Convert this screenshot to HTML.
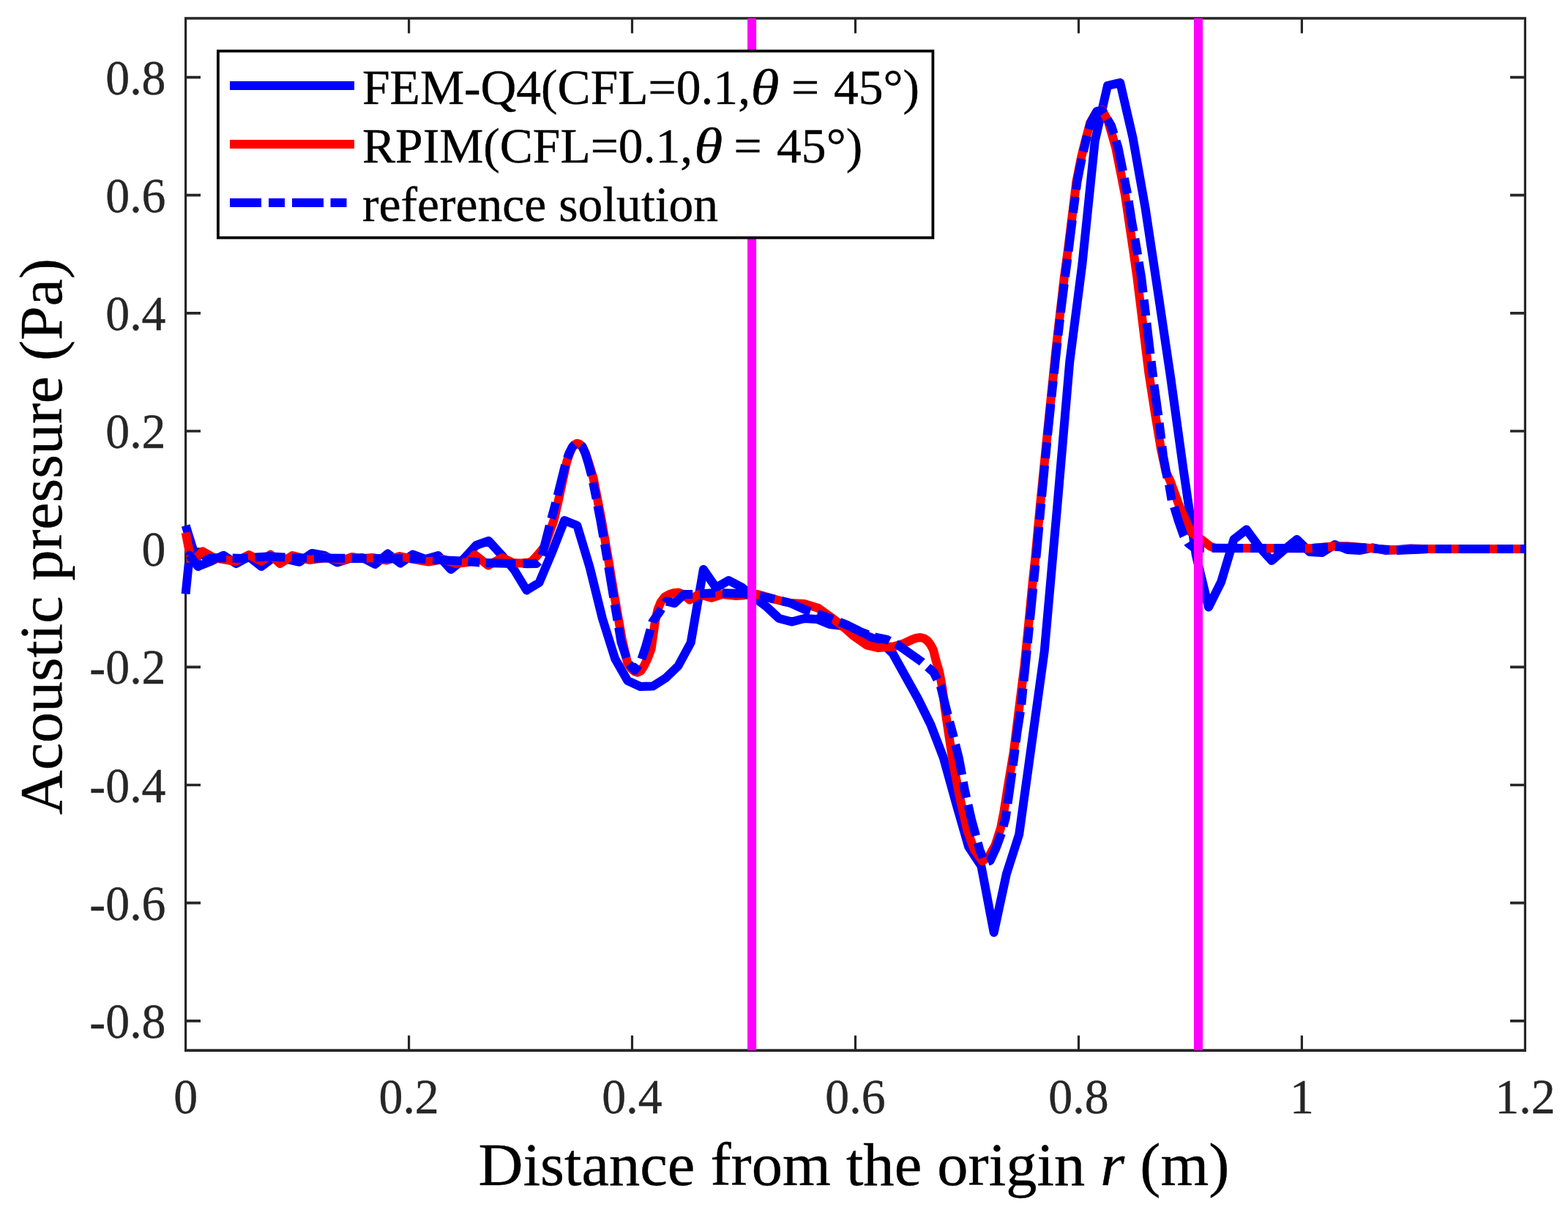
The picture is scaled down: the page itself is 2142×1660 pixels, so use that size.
<!DOCTYPE html>
<html lang="en">
<head>
<meta charset="utf-8">
<title>Acoustic pressure vs distance from the origin</title>
<style>
html,body{margin:0;padding:0;background:#fff;}
body{width:2142px;height:1660px;overflow:hidden;}
svg{display:block;}
text{font-family:"Liberation Serif","DejaVu Serif",serif;white-space:pre;}
.tick{font-size:67.5px;fill:#262626;stroke:#262626;stroke-width:0.4;}
.lab{font-size:83.3px;fill:#000;stroke:#000;stroke-width:0.4;}
.leg{font-size:66.7px;fill:#000;stroke:#000;stroke-width:0.4;}
.it{font-style:italic;}
.ax{stroke:#262626;fill:none;stroke-linecap:butt;}
.c{fill:none;stroke-width:12;stroke-linejoin:round;stroke-linecap:butt;}
</style>
</head>
<body>
<svg width="2142" height="1660" viewBox="0 0 2142 1660">
<rect x="0" y="0" width="2142" height="1660" fill="#fff"/>
<g class="ax">
<path stroke-width="3.7" d="M252.0 25.0H2085.0M252.0 1435.1H2085.0"/>
<path stroke-width="3.2" d="M253.6 25.0V1435.1M2083.4 25.0V1435.1"/>
<path stroke-width="3.2" d="M558.6 1435.1V1414.7M558.6 25.0V45.4M863.5 1435.1V1414.7M863.5 25.0V45.4M1168.5 1435.1V1414.7M1168.5 25.0V45.4M1473.5 1435.1V1414.7M1473.5 25.0V45.4M1778.4 1435.1V1414.7M1778.4 25.0V45.4"/>
<path stroke-width="3.7" d="M253.6 1394.8H274.0M2083.4 1394.8H2063.0M253.6 1233.7H274.0M2083.4 1233.7H2063.0M253.6 1072.5H274.0M2083.4 1072.5H2063.0M253.6 911.3H274.0M2083.4 911.3H2063.0M253.6 750.2H274.0M2083.4 750.2H2063.0M253.6 589.0H274.0M2083.4 589.0H2063.0M253.6 427.9H274.0M2083.4 427.9H2063.0M253.6 266.7H274.0M2083.4 266.7H2063.0M253.6 105.6H274.0M2083.4 105.6H2063.0"/>
</g>
<g class="tick" text-anchor="middle">
<text transform="translate(253.6 1521.0) scale(0.9750 1)">0</text>
<text transform="translate(558.6 1521.0) scale(0.9750 1)">0.2</text>
<text transform="translate(863.5 1521.0) scale(0.9750 1)">0.4</text>
<text transform="translate(1168.5 1521.0) scale(0.9750 1)">0.6</text>
<text transform="translate(1473.5 1521.0) scale(0.9750 1)">0.8</text>
<text transform="translate(1778.4 1521.0) scale(0.9750 1)">1</text>
<text transform="translate(2083.4 1521.0) scale(0.9750 1)">1.2</text>
</g>
<g class="tick" text-anchor="end">
<text transform="translate(226.5 1417.8) scale(0.9750 1)">-0.8</text>
<text transform="translate(226.5 1256.7) scale(0.9750 1)">-0.6</text>
<text transform="translate(226.5 1095.5) scale(0.9750 1)">-0.4</text>
<text transform="translate(226.5 934.3) scale(0.9750 1)">-0.2</text>
<text transform="translate(226.5 773.2) scale(0.9750 1)">0</text>
<text transform="translate(226.5 612.0) scale(0.9750 1)">0.2</text>
<text transform="translate(226.5 450.9) scale(0.9750 1)">0.4</text>
<text transform="translate(226.5 289.7) scale(0.9750 1)">0.6</text>
<text transform="translate(226.5 128.6) scale(0.9750 1)">0.8</text>
</g>
<text class="lab" text-anchor="middle" transform="translate(1166.5 1619.0) scale(1.0150 1)">Distance from the origin <tspan class="it">r</tspan> (m)</text>
<text class="lab" text-anchor="middle" transform="translate(84.0 733.0) rotate(-90) scale(1.0077 1)">Acoustic pressure (Pa)</text>
<g class="c">
<polyline stroke="#0000ff" points="253.6,718.0 270.9,773.8 288.1,766.9 305.4,758.7 322.6,770.1 339.9,760.5 357.1,773.9 374.4,761.0 391.6,764.0 408.9,767.8 426.1,755.9 443.4,759.0 460.6,768.5 477.9,763.0 495.1,762.0 512.4,771.0 529.6,756.5 546.9,769.5 564.1,757.5 581.4,764.0 598.6,759.0 615.9,778.0 633.1,764.0 650.4,745.0 667.6,739.0 684.9,758.0 702.1,778.0 719.4,806.5 736.6,796.0 753.9,755.0 771.1,711.0 788.4,718.0 805.6,775.0 822.9,845.0 840.2,900.0 857.4,930.0 874.7,938.0 891.9,937.5 909.2,926.5 926.4,910.0 943.7,878.0 960.9,778.0 978.2,803.0 995.4,793.0 1012.7,802.0 1029.9,816.0 1047.2,829.0 1064.4,845.0 1081.7,849.5 1098.9,845.0 1116.2,846.0 1133.4,853.0 1150.7,855.0 1167.9,864.0 1185.2,869.0 1202.4,876.0 1219.7,893.0 1236.9,924.0 1254.2,955.0 1271.4,990.0 1288.7,1035.0 1305.9,1097.0 1323.2,1157.0 1340.4,1183.0 1357.7,1274.0 1374.9,1194.0 1392.2,1140.0 1409.5,1015.0 1426.7,890.0 1444.0,695.0 1461.2,495.0 1478.5,360.0 1495.7,193.0 1513.0,117.0 1530.2,113.0 1547.5,188.0 1564.7,285.0 1582.0,400.0 1599.2,516.0 1616.5,641.0 1633.7,758.0 1651.0,829.5 1668.2,795.0 1685.5,737.0 1702.7,723.5 1720.0,747.0 1737.2,766.0 1754.5,751.0 1771.7,737.0 1789.0,754.0 1806.2,755.0 1823.5,744.0 1840.7,751.0 1858.0,752.0 1875.2,748.3 1892.5,752.0 1909.7,751.0 1927.0,749.5 1944.2,750.0 1961.5,750.0 1978.8,750.0 1996.0,750.0 2013.3,750.0 2030.5,750.0 2047.8,750.0 2065.0,750.0 2082.3,750.0"/>
<polyline stroke="#ff0000" points="253.6,727.5 261.5,768.0 277.0,753.5 292.0,762.0 322.0,767.0 340.0,758.0 356.4,766.8 369.5,757.8 382.6,770.0 399.4,759.0 422.7,765.0 445.0,762.0 468.0,765.6 481.0,761.0 495.0,763.0 509.0,762.0 528.0,765.6 546.0,760.0 565.0,764.0 585.5,767.5 605.0,764.0 623.0,770.0 640.0,768.0 648.5,758.0 667.0,772.5 686.0,762.0 700.8,769.0 712.0,769.4 722.0,768.5 727.0,766.5 734.6,758.0 743.9,746.8 756.7,710.8 763.5,681.0 774.2,631.0 778.0,620.0 781.5,611.5 785.0,607.5 788.2,605.7 792.0,607.0 796.0,611.5 800.0,620.0 805.0,635.0 810.5,653.0 821.5,709.0 831.2,765.0 840.5,821.0 849.5,872.0 857.0,905.0 862.0,913.0 867.0,917.5 871.0,918.7 875.5,916.5 880.0,909.5 885.0,899.0 889.6,886.7 895.0,849.0 898.5,833.0 902.7,822.5 908.0,815.5 914.0,812.3 920.0,810.3 927.0,809.5 934.0,812.5 942.0,819.5 955.0,812.0 971.8,816.7 986.7,812.0 1005.4,814.0 1035.0,812.0 1061.0,819.5 1080.0,824.0 1098.8,825.0 1117.5,830.7 1136.0,843.8 1154.8,858.7 1165.4,868.3 1184.0,881.4 1199.0,885.0 1221.4,883.2 1235.0,879.0 1246.7,873.5 1252.0,871.6 1257.3,871.0 1262.5,872.3 1267.0,875.5 1271.0,880.5 1275.0,888.0 1278.5,902.0 1283.2,918.0 1287.2,939.0 1290.5,965.4 1296.0,1002.8 1302.7,1046.7 1312.0,1093.4 1321.4,1134.5 1330.7,1160.6 1342.0,1176.5 1351.0,1170.0 1359.5,1155.0 1367.2,1130.7 1371.3,1110.0 1376.3,1078.0 1384.8,1027.1 1394.4,950.0 1399.5,909.4 1405.1,853.4 1410.5,797.3 1414.5,760.0 1421.0,690.0 1431.5,585.0 1443.0,473.0 1453.7,380.0 1459.0,341.0 1470.5,248.0 1477.2,214.5 1482.8,192.0 1489.3,167.8 1497.5,153.5 1505.5,150.0 1514.0,166.0 1524.0,201.0 1531.5,238.7 1537.0,266.7 1548.0,341.0 1553.5,380.0 1569.5,510.7 1578.2,566.7 1586.0,613.4 1592.8,645.0 1598.3,656.4 1612.3,694.7 1620.7,713.4 1627.2,727.4 1643.0,738.5 1653.4,746.5 1660.0,748.8 1790.0,749.3 1812.0,747.3 1824.0,746.3 1840.0,746.2 1855.0,747.5 1871.8,749.0 1890.0,750.8 1903.0,751.6 1925.0,750.8 1950.0,750.0 2084.0,750.0"/>
<path stroke="#0000ff" d="M253.6 811.5L257.9 769.0M258.9 759.2L259.0 758.5L270.5 774.0L272.0 772.7M278.5 767.0L279.0 766.5L286.0 763.0L300.0 762.0L309.1 762.3M317.6 762.6L330.0 763.0L338.8 762.2M348.3 761.4L368.0 760.2L389.3 761.5M398.6 762.5L400.0 762.6L419.3 762.5M428.9 762.5L430.0 762.5L471.3 762.8M480.7 762.9L500.0 763.0L500.7 763.0M509.9 763.0L550.0 763.2M559.6 763.3L570.0 763.3L581.6 764.0M591.1 764.5L600.0 765.0L630.0 766.5L631.0 766.6M639.2 767.2L646.0 767.8L655.4 768.6M663.8 769.1L680.0 769.4L700.0 770.0L704.5 770.0M714.3 770.1L720.0 770.2L733.0 770.0L735.7 767.3M740.2 758.7L741.5 755.0L750.8 718.2M753.4 708.6L759.2 686.7M761.7 677.0L763.0 672.0L772.1 635.5M774.9 626.1L778.0 618.0L782.0 610.5L785.2 607.3M793.9 608.6L795.5 610.0L799.5 619.0L804.0 634.0L808.1 649.4M810.2 659.3L814.6 681.4M816.5 691.3L820.0 709.0L824.3 733.6M826.0 743.4L829.7 765.0M831.3 774.7L838.2 816.2M839.8 825.9L843.5 847.4M845.2 857.2L848.6 877.4L855.7 898.7M859.5 907.2L867.2 915.7L872.3 908.7M876.5 900.4L882.2 883.0L888.6 860.0M891.2 850.4L891.5 849.4L900.8 836.3L903.6 831.8M909.0 823.3L910.2 821.4L921.4 824.2L934.5 812.0L946.2 812.0M956.0 811.4L977.0 810.0L977.2 810.0M986.9 810.3L1014.7 811.0L1028.6 813.0M1038.0 814.4L1041.0 814.8L1058.1 818.7M1067.4 821.0L1080.0 824.0L1098.8 832.6L1107.0 835.4M1116.5 838.6L1117.5 839.0L1136.0 845.7L1137.5 846.3M1146.8 849.9L1156.0 853.4L1174.7 862.7L1185.7 867.1M1194.7 870.5L1212.0 874.0L1215.2 875.6M1224.0 879.9L1227.0 881.4L1258.7 903.8L1259.7 904.7M1267.2 911.3L1275.5 918.7L1280.3 928.2M1284.6 936.8L1284.9 937.4L1294.2 974.7L1294.7 976.7M1297.2 986.1L1301.7 1002.8L1302.9 1007.5M1305.2 1017.2L1310.2 1037.3L1314.1 1058.7M1315.8 1068.4L1317.6 1078.4L1320.2 1089.9M1322.5 1099.6L1327.0 1119.5L1333.1 1141.9M1335.7 1151.4L1338.2 1160.6L1342.7 1171.9M1349.5 1177.2L1352.6 1176.0L1360.6 1158.7L1368.0 1138.6M1370.6 1129.0L1373.7 1117.6L1375.1 1107.8M1376.5 1098.0L1379.3 1078.4L1382.4 1055.7M1383.7 1045.8L1384.9 1037.3L1386.6 1023.8M1387.8 1014.0L1389.5 1000.0L1393.9 972.4M1395.3 962.6L1397.5 940.6M1398.5 930.7L1400.7 909.4L1402.8 888.5M1403.8 878.6L1406.0 856.6M1407.0 846.7L1411.2 804.2M1412.2 794.3L1414.4 772.1M1415.4 762.2L1415.6 760.0L1419.3 719.7M1420.2 709.9L1422.0 690.0L1422.2 688.2M1423.1 678.4L1426.6 641.4L1427.1 635.9M1428.1 626.1L1430.2 604.3M1431.1 594.5L1432.0 585.4L1435.5 552.0M1436.5 542.1L1437.8 529.4L1438.8 520.3M1439.8 510.5L1443.8 473.4L1444.4 468.1M1445.5 458.2L1447.9 436.4M1449.0 426.9L1449.0 426.7L1453.8 388.1M1455.0 378.1L1458.2 353.7M1459.6 343.3L1459.8 341.4L1464.8 300.7M1466.0 290.8L1468.8 268.9M1470.1 259.0L1471.5 248.0L1477.7 216.8M1480.0 207.1L1483.5 192.0L1485.2 185.6M1487.5 176.5L1489.8 167.8L1498.5 152.0L1505.5 151.0L1507.8 154.8M1512.8 162.9L1518.0 171.5L1521.6 183.1M1524.6 192.5L1527.4 201.4L1533.9 233.8M1535.8 243.4L1540.1 264.8M1541.7 274.5L1546.3 304.0L1548.5 316.4M1550.3 326.1L1553.0 341.4L1554.1 348.1M1555.7 357.9L1559.3 380.0L1561.6 399.7M1562.7 409.5L1565.3 431.4M1566.4 441.2L1571.3 482.7L1571.4 483.7M1572.6 493.5L1575.3 515.5M1576.5 525.4L1577.0 529.4L1582.3 567.8M1583.6 577.7L1586.3 599.8M1587.4 609.8L1589.0 622.8L1594.5 652.6M1597.1 662.1L1600.6 683.3M1604.0 692.4L1610.0 712.0L1617.0 732.0L1617.3 732.6M1622.7 741.5L1623.0 742.0L1630.0 747.5L1640.0 748.8L1645.0 748.8M1655.5 748.8L1698.2 748.9M1708.1 748.9L1730.1 748.9M1740.1 748.9L1780.0 749.0L1782.8 749.0M1792.6 749.0L1814.0 747.6M1823.8 746.9L1847.0 747.4L1866.5 748.6L1866.9 748.6M1876.7 749.5L1898.1 751.1M1907.8 752.0L1930.0 751.0L1950.8 750.0M1960.7 750.0L1982.7 750.0M1992.5 750.0L2035.0 750.0M2044.9 750.0L2067.0 750.0M2077.0 750.0L2084.0 750.0L2084.0 750.0"/>
<path stroke="#ff00ff" d="M1027.1 25.0V1435.1M1637.0 25.0V1435.1"/>
</g>
<rect x="297.9" y="69.7" width="976.5" height="255.1" fill="#fff" stroke="#000" stroke-width="3.8"/>
<g class="c">
<path stroke="#0000ff" d="M314 117H484"/>
<path stroke="#ff0000" d="M314 197H484"/>
<path stroke="#0000ff" d="M314 277H357M367 277H389M399 277H442M451.5 277H473.5"/>
</g>
<g class="leg">
<text transform="translate(495.0 141.7) scale(1.0135 1)">FEM-Q4(CFL=0.1,<tspan class="it" x="523.4" textLength="38.5" lengthAdjust="spacingAndGlyphs">θ</tspan> <tspan x="578.2">=</tspan> <tspan x="635.4">45°)</tspan></text>
<text transform="translate(495.0 221.6) scale(1.0135 1)">RPIM(CFL=0.1,<tspan class="it" x="447.3" textLength="38.5" lengthAdjust="spacingAndGlyphs">θ</tspan> <tspan x="500.7">=</tspan> <tspan x="558.5">45°)</tspan></text>
<text transform="translate(495.0 301.6) scale(1.0135 1)">reference solution</text>
</g>
</svg>
</body>
</html>
